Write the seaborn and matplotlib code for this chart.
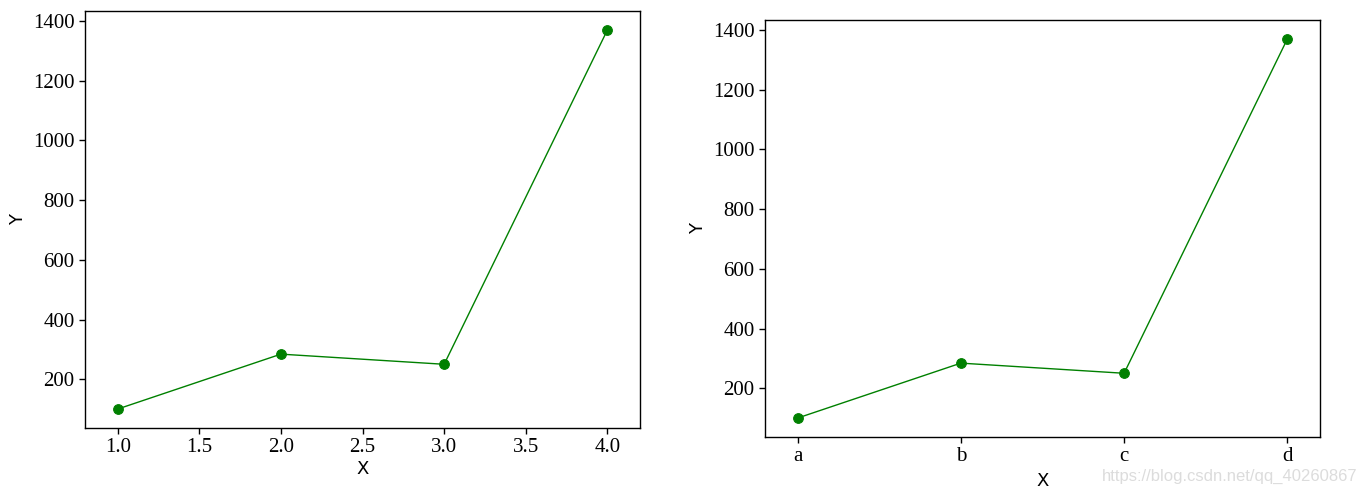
import matplotlib
matplotlib.use('Agg')
import matplotlib.pyplot as plt
import seaborn as sns

# data
x_num = [1.0, 2.0, 3.0, 4.0]
x_cat = ['a', 'b', 'c', 'd']
y_vals = [100, 284, 250, 1370]

sns.set_style('ticks')
plt.rcParams['font.family'] = ['Liberation Serif', 'DejaVu Serif']
plt.rcParams['axes.linewidth'] = 1.0
plt.rcParams['text.color'] = 'black'
plt.rcParams['axes.labelcolor'] = 'black'
plt.rcParams['xtick.color'] = 'black'
plt.rcParams['ytick.color'] = 'black'


def draw_line(ax, x, y, lo, hi):
    """Green line with round markers."""
    sns.lineplot(ax=ax, x=x, y=y, color='green', marker='o',
                 markersize=7, markeredgecolor='green', linewidth=1)
    ax.set_xlim(lo - 0.2, hi + 0.2)
    ax.set_xlabel('X', family='DejaVu Sans', fontsize=13)
    ax.set_ylabel('Y', family='DejaVu Sans', fontsize=13)
    ax.tick_params(labelsize=15, direction='out', length=4, width=1)
    for s in ax.spines.values():
        s.set_color('black')


fig = plt.figure(figsize=(13.67, 4.94), dpi=100)
ax1 = fig.add_axes([0.0622, 0.1336, 0.406, 0.844])
ax2 = fig.add_axes([0.5596, 0.1154, 0.406, 0.844])

draw_line(ax1, x_num, y_vals, 1.0, 4.0)
draw_line(ax2, x_cat, y_vals, 0, 3)
ax1.xaxis.labelpad = 2

fig.text(0.993, 0.02, 'https://blog.csdn.net/qq_40260867', ha='right', va='bottom',
         family='Liberation Sans', fontsize=12, color='#dcdcdc')

fig.savefig('out.png', dpi=100)
